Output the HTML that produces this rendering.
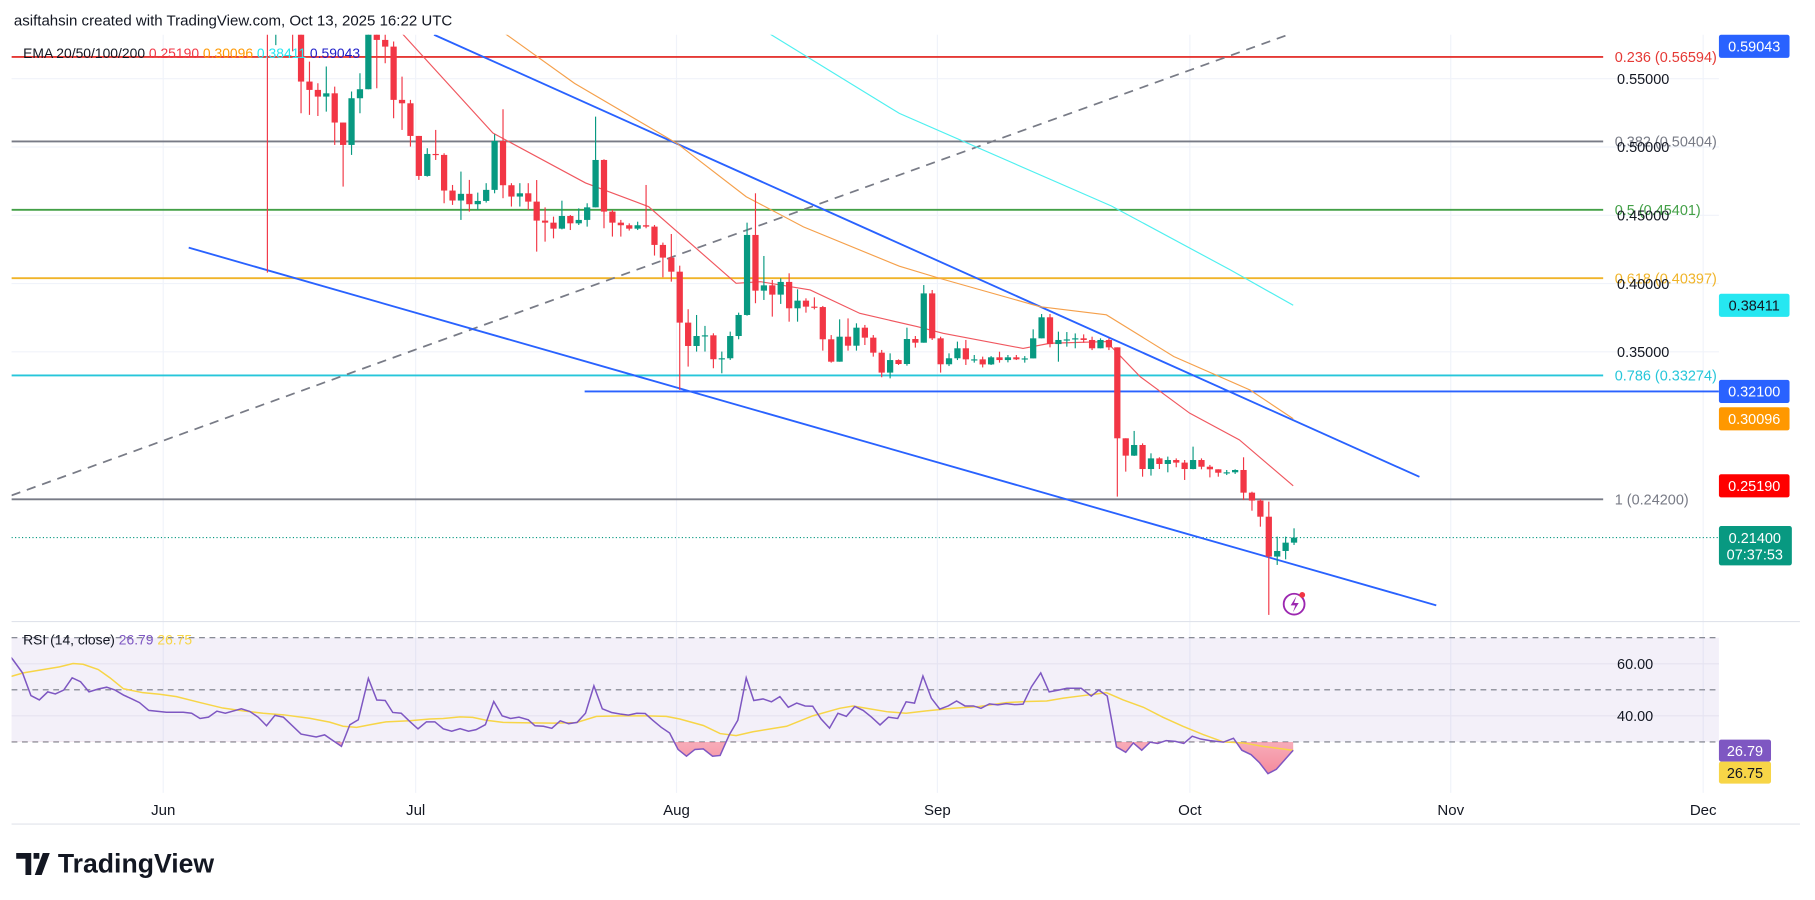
<!DOCTYPE html>
<html><head><meta charset="utf-8"><title>TradingView chart</title>
<style>
html,body{margin:0;padding:0;background:#fff;}
svg{display:block;font-family:"Liberation Sans",sans-serif;}
</style></head>
<body>
<svg id="chart" width="1815" height="900" viewBox="0 0 1568 777.6" preserveAspectRatio="none" xmlns="http://www.w3.org/2000/svg">
<defs>
<clipPath id="pane"><rect x="10" y="30" width="1475" height="507"/></clipPath>
<clipPath id="rsiPane"><rect x="10" y="538" width="1475" height="147"/></clipPath>
<clipPath id="below30"><rect x="10" y="641" width="1475" height="50"/></clipPath>
<linearGradient id="pinkG" x1="0" y1="0" x2="0" y2="1"><stop offset="0" stop-color="#f7a9b4" stop-opacity="0.2"/><stop offset="1" stop-color="#f26d84" stop-opacity="0.8"/></linearGradient>
</defs>
<rect x="0" y="0" width="1568" height="784" fill="#fff"/>
<text x="12" y="22" font-size="13" fill="#131722">asiftahsin created with TradingView.com, Oct 13, 2025 16:22 UTC</text>
<g id="grid"></g>
<g id="main" clip-path="url(#pane)"></g>
<g id="rsi"></g>
<g id="axes"></g>
<line x1="10" y1="712" x2="1555" y2="712" stroke="#e0e3eb" stroke-width="1"/>
<line x1="10" y1="537" x2="1555" y2="537" stroke="#e0e3eb" stroke-width="1"/>
<g>
<path d="M14 737h13v19h-5v-14h-8z M29 737h5v5h-5z M37 737h6l-7 19h-6z" fill="#131722"/>
<text x="50" y="754" font-size="23" font-weight="bold" fill="#131722">TradingView</text>
</g>
<text x="20" y="50" font-size="12"><tspan fill="#131722">EMA 20/50/100/200 </tspan><tspan fill="#f23645">0.25190 </tspan><tspan fill="#ff9800">0.30096 </tspan><tspan fill="#26e7f1">0.38411 </tspan><tspan fill="#1e1ec8">0.59043</tspan></text>
<text x="20" y="557" font-size="12"><tspan fill="#131722">RSI (14, close) </tspan><tspan fill="#7e57c2">26.79 </tspan><tspan fill="#f7d547">26.75</tspan></text>
<g>
<circle cx="1118" cy="522" r="9" fill="none" stroke="#9c27b0" stroke-width="1.6"/>
<path d="M1120 515l-5 8h4l-2 6 5-8h-4z" fill="#9c27b0"/>
<circle cx="1125" cy="514" r="2.5" fill="#f23645"/>
</g>
</svg>
<script>
const close=[0.61,0.625,0.60,0.585,0.5479,0.5418,0.5369,0.5393,0.5179,0.5015,0.5357,0.5423,0.5833,0.5784,0.5735,0.5345,0.5320,0.5081,0.4788,0.4949,0.4942,0.4681,0.4608,0.4657,0.4581,0.4605,0.4686,0.5044,0.4720,0.4637,0.4661,0.4600,0.4461,0.4446,0.4402,0.4495,0.4441,0.4466,0.4558,0.4905,0.4527,0.4446,0.4427,0.4402,0.4427,0.4417,0.4283,0.4190,0.4087,0.3714,0.3543,0.3616,0.3621,0.3446,0.3453,0.3616,0.3770,0.4356,0.3948,0.3987,0.3919,0.4012,0.3819,0.3875,0.3831,0.3828,0.3592,0.3428,0.3611,0.3545,0.3677,0.3604,0.3494,0.3348,0.3440,0.3411,0.3594,0.3567,0.3928,0.3599,0.3409,0.3453,0.3526,0.3445,0.3445,0.3408,0.3460,0.3440,0.3460,0.3445,0.3452,0.3599,0.3753,0.3557,0.3587,0.3591,0.3599,0.3587,0.3526,0.3587,0.3533,0.2867,0.2740,0.2818,0.2642,0.2720,0.2679,0.2708,0.2689,0.2642,0.2708,0.2659,0.2640,0.2615,0.2618,0.2635,0.2469,0.2411,0.2293,0.2001,0.2042,0.2103,0.2140];
const high=[0.66,0.64,0.63,0.60,0.5857,0.5625,0.5467,0.5589,0.5442,0.5174,0.5406,0.5540,0.59,0.59,0.5833,0.5772,0.5515,0.5345,0.5081,0.4991,0.5125,0.4954,0.4722,0.4820,0.4759,0.4666,0.4735,0.5093,0.5276,0.4735,0.4735,0.4735,0.4758,0.4558,0.4490,0.4607,0.4502,0.4551,0.4588,0.5222,0.4910,0.4539,0.4466,0.4441,0.4453,0.4722,0.4429,0.4300,0.4363,0.4131,0.3812,0.3770,0.3690,0.3636,0.3502,0.3648,0.3787,0.4446,0.4661,0.4202,0.4026,0.4039,0.4075,0.3958,0.3892,0.3899,0.3836,0.3623,0.3738,0.3745,0.3709,0.3697,0.3623,0.3514,0.3489,0.3445,0.3677,0.3616,0.3989,0.3953,0.3611,0.3489,0.3575,0.3587,0.3477,0.3465,0.3469,0.3501,0.3477,0.3477,0.3469,0.3665,0.3777,0.3777,0.3648,0.3645,0.3635,0.3628,0.3611,0.3599,0.3599,0.3533,0.2867,0.2921,0.2830,0.2757,0.2728,0.2733,0.2720,0.2708,0.2806,0.2720,0.2672,0.2640,0.2635,0.2640,0.2728,0.2476,0.2420,0.2403,0.2147,0.2147,0.2208];
const low=[0.408,0.5746,0.59,0.57,0.5247,0.5235,0.5227,0.5259,0.5015,0.4710,0.4942,0.5247,0.5423,0.5430,0.5613,0.5210,0.5125,0.5003,0.4759,0.4783,0.4905,0.4588,0.4576,0.4466,0.4527,0.4539,0.4593,0.4661,0.4625,0.4564,0.4564,0.4539,0.4234,0.4307,0.4331,0.4397,0.4392,0.4429,0.4417,0.4558,0.4405,0.4344,0.4344,0.4388,0.4392,0.4405,0.4205,0.4046,0.4014,0.3221,0.3392,0.3502,0.3502,0.3380,0.3343,0.3441,0.3592,0.3765,0.3856,0.3880,0.3758,0.3851,0.3721,0.3721,0.3787,0.3811,0.3509,0.3421,0.3428,0.3509,0.3509,0.3550,0.3465,0.3314,0.3306,0.3404,0.3399,0.3531,0.3567,0.3587,0.3348,0.3396,0.3440,0.3404,0.3421,0.3386,0.3404,0.3421,0.3423,0.3440,0.3421,0.3452,0.3599,0.3533,0.3428,0.3538,0.3526,0.3567,0.3513,0.3526,0.3513,0.2440,0.2623,0.2738,0.2586,0.2594,0.2642,0.2618,0.2655,0.2562,0.2640,0.2640,0.2581,0.2586,0.2598,0.2606,0.2415,0.2337,0.2220,0.1574,0.1940,0.1981,0.2086];
const firstOpen=0.65;
const ema20Idx=[16,26.8,37.8,45.3,55.7,58.6,64.5,70.4,77.2,80.3,89.8,93,99.7,103.7,109.6,115.5,121.9];
const ema20Val=[0.5832,0.5102,0.4737,0.4563,0.4002,0.4014,0.3953,0.3782,0.3685,0.3636,0.3525,0.3563,0.3575,0.3319,0.3051,0.2856,0.2519];
const ema50Idx=[28.2,36.5,48.7,56.9,63.7,75.1,79.9,91.8,99.7,107.7,116.8,121.9];
const ema50Val=[0.5832,0.5466,0.5025,0.4636,0.4415,0.4127,0.4038,0.3831,0.3771,0.3466,0.3220,0.3010];
const ema100Idx=[59.6,75.1,100.3,114.4,121.9];
const ema100Val=[0.5832,0.5246,0.4568,0.4101,0.3841];
const rsiIdx=[-30.6,-30.2,-29.1,-28.1,-27.1,-26.1,-25.2,-24.2,-23.2,-22.2,-21.2,-20.1,-19.1,-18.1,-17.1,-16.1,-15.2,-14.1,-12.0,-10.0,-9.0,-8.0,-7.0,-6.0,-5.0,-3.1,-2.1,-1.1,-0.1,0.9,1.9,4.0,5.8,6.8,7.8,8.8,9.8,10.8,12.0,13.0,14.0,14.9,15.9,16.9,17.9,18.9,19.9,20.9,21.9,22.9,23.9,24.8,25.9,26.9,27.9,28.9,29.9,31.0,31.8,32.8,33.8,34.8,35.8,36.8,37.8,38.8,39.8,40.9,41.9,42.9,43.9,44.9,45.8,46.8,47.8,48.8,49.8,50.8,51.8,52.9,53.8,54.9,55.9,56.9,57.8,58.9,59.9,60.9,61.9,62.9,63.9,64.8,65.8,66.8,67.8,68.8,69.8,70.8,71.8,72.8,73.8,74.9,75.9,76.9,77.9,78.9,79.9,80.9,81.9,82.9,83.9,84.8,85.8,86.8,87.8,88.8,89.8,90.8,91.9,92.9,94.0,95.0,96.7,97.9,98.8,99.8,100.9,102.0,102.9,103.9,104.9,105.8,106.8,107.9,108.9,109.9,110.9,112.0,113.6,114.8,115.8,116.9,117.9,118.9,119.9,121.9];
const rsiVal=[63,61.4,56.5,47.8,46.1,49.2,48.4,49.9,54.6,53.1,49.2,50.3,51.0,49.9,48.0,46.5,45.1,42.1,41.4,41.4,41.0,39.0,39.5,41.8,41.0,42.7,41.7,39.5,36.2,40.2,39.5,33.0,31.9,32.7,30.5,28.3,36.6,38.5,54.4,46.1,45.9,41.3,41.0,37.9,35.0,37.7,37.7,35.0,34.1,35.1,34.1,34.7,36.6,45.5,40.0,39.0,39.5,38.5,36.2,36.0,35.2,38.1,37.0,37.5,41.0,51.5,42.7,41.3,40.7,40.3,41.0,40.9,38.3,35.6,33.4,27.1,24.5,27.1,27.3,24.5,24.8,32.8,38.3,54.6,45.9,46.5,45.4,47.4,43.3,44.9,43.8,43.7,38.8,35.3,41.0,39.8,43.6,42.1,39.5,36.5,39.5,39.0,45.4,44.9,55.3,46.8,42.6,43.8,45.7,43.8,43.8,42.9,44.6,44.2,44.7,44.3,44.5,51.2,56.5,49.2,49.9,50.6,50.6,47.6,49.9,47.6,28.1,26.0,29.6,26.8,29.9,29.4,30.5,30.2,29.4,32.2,31.1,30.5,29.9,31.4,26.8,25.1,22.0,17.8,19.5,26.79];
const maIdx=[-30.6,-29.0,-26.6,-24.7,-23.1,-21.9,-20.1,-18.7,-17.1,-14.8,-12.8,-10.8,-8.0,-5.3,-2.9,-0.5,1.9,5.0,7.4,9.0,10.6,12.2,14.1,16.9,19.3,20.9,22.9,24.4,26.0,28.0,31.2,34.0,36.7,39.1,41.9,45.0,47.4,49.0,51.8,53.8,55.7,57.7,61.7,64.8,68.0,69.6,71.6,73.6,75.9,78.3,81.5,84.6,87.8,90.2,92.6,94.6,96.5,98.5,99.7,101.7,104.1,106.4,108.8,111.2,113.6,116.0,118.3,121.9];
const maVal=[55.0,56.5,57.8,58.8,60.1,59.8,57.8,54.6,50.4,48.9,48.3,47.4,45.1,43.0,41.9,41.0,40.4,39.1,37.6,36.0,35.6,36.6,37.7,38.1,38.8,39.0,39.6,39.4,38.3,37.5,37.3,37.2,37.4,39.8,40.0,40.0,39.8,38.8,36.3,33.2,32.4,33.9,36.0,40.0,42.9,43.8,42.7,41.6,41.0,41.9,42.9,43.6,45.1,45.5,45.7,46.8,47.6,48.4,48.9,46.1,43.3,39.5,36.0,32.8,30.0,29.6,28.3,26.75];
const fibRatio=["0.236","0.382","0.5","0.618","0.786","1"];
const fibPrice=[0.56594,0.50404,0.45401,0.40397,0.33274,0.242];
const fibColor=["#e53935","#787b86","#43a047","#f0b429","#26c6da","#787b86"];
const priceTicks=[0.55,0.50,0.45,0.40,0.35];
const rsiTicks=[60,40];
const monthLabels=["Jun","Jul","Aug","Sep","Oct","Nov","Dec"];
const monthDays=[0,30,61,92,122,153,183];
const trendUpperIdx=[19.8,136.9], trendUpperVal=[0.5822,0.2585];
const trendLowerIdx=[-9.35,138.9], trendLowerVal=[0.4263,0.1644];
const dashIdx=[-30.4,121.3], dashVal=[0.2449,0.5822];
const supportIdx=37.7, supportVal=0.321;
const badgeVals=["0.59043","0.38411","0.32100","0.30096","0.25190"];
const badgePrice=[0.59043,0.38411,0.321,0.30096,0.2519];
const badgeColor=["#2962ff","#26e7f1","#2962ff","#ff9800","#ff0000"];
const lastPrice=0.214, countdown="07:37:53";

const NS="http://www.w3.org/2000/svg";
const X=i=>231+i*7.27;
const Y=p=>68+(0.55-p)*1180;
const XD=d=>141+d*7.27;
const RY=r=>596-(r-50)*2.25;
function mk(tag,attrs,parent){const e=document.createElementNS(NS,tag);for(const k in attrs)e.setAttribute(k,attrs[k]);parent.appendChild(e);return e;}
const grid=document.getElementById('grid'),main=document.getElementById('main'),rsi=document.getElementById('rsi'),axes=document.getElementById('axes');

monthDays.forEach((d,k)=>{
  const l=mk('line',{x1:XD(d),x2:XD(d),y1:30,y2:685,stroke:'#f0f3fa','stroke-width':1},grid);
  
  
  const t=mk('text',{x:XD(d),y:704,'font-size':13,fill:'#131722','text-anchor':'middle'},axes);
  t.textContent=monthLabels[k];
  
  
});
priceTicks.forEach(p=>{
  const l=mk('line',{x1:10,x2:1485,y1:Y(p),y2:Y(p),stroke:'#f0f3fa','stroke-width':1},grid);
  
  
  const t=mk('text',{x:1397,y:Y(p)+4.5,'font-size':12.5,fill:'#131722'},axes);
  t.textContent=p.toFixed(5);
  
  
});

fibPrice.forEach((p,k)=>{
  const l=mk('line',{x1:10,x2:1385,y1:Y(p),y2:Y(p),stroke:fibColor[k],'stroke-width':1.6},main);
  
  
  const t=mk('text',{x:1395,y:Y(p)+4.5,'font-size':12.5,fill:fibColor[k]},main);
  t.textContent=fibRatio[k]+' ('+p.toFixed(5)+')';
  
  
});
const lp=mk('line',{x1:10,x2:1485,y1:Y(lastPrice),y2:Y(lastPrice),stroke:'#089981','stroke-width':1,'stroke-dasharray':'1 2'},main);


const dl=mk('line',{x1:X(dashIdx[0]),y1:Y(dashVal[0]),x2:X(dashIdx[1]),y2:Y(dashVal[1]),stroke:'#787b86','stroke-width':1.5,'stroke-dasharray':'8 6'},main);


const sl=mk('line',{x1:X(supportIdx),y1:Y(supportVal),x2:1485,y2:Y(supportVal),stroke:'#2962ff','stroke-width':1.6},main);


const tu=mk('line',{x1:X(trendUpperIdx[0]),y1:Y(trendUpperVal[0]),x2:X(trendUpperIdx[1]),y2:Y(trendUpperVal[1]),stroke:'#2962ff','stroke-width':1.6},main);


const tl=mk('line',{x1:X(trendLowerIdx[0]),y1:Y(trendLowerVal[0]),x2:X(trendLowerIdx[1]),y2:Y(trendLowerVal[1]),stroke:'#2962ff','stroke-width':1.6},main);



function poly(idx,val,fx,fy,color,w,parent){return mk('polyline',{points:idx.map((v,k)=>fx(v)+','+fy(val[k])).join(' '),fill:'none',stroke:color,'stroke-width':w},parent);}
const e100=poly(ema100Idx,ema100Val,X,Y,'#4ef0f0',1,main);


const e50=poly(ema50Idx,ema50Val,X,Y,'#f5a04b',1,main);


const e20=poly(ema20Idx,ema20Val,X,Y,'#f0575f',1,main);



close.forEach((c,i)=>{
  const o=i===0?firstOpen:close[i-1];
  const up=c>=o, col=up?'#089981':'#f23645';
  const h=Math.max(high[i],o,c), lo=Math.min(low[i],o,c);
  const g=mk('g',{},main);
  
  
  mk('line',{x1:X(i),x2:X(i),y1:Y(h),y2:Y(lo),stroke:col,'stroke-width':1},g);
  const top=Y(Math.max(o,c)), bh=Math.max(1,Math.abs(Y(o)-Y(c)));
  mk('rect',{x:X(i)-2.7,y:top,width:5.4,height:bh,fill:col},g);
});

badgeVals.forEach((v,k)=>{
  const y=Y(badgePrice[k]);
  const g=mk('g',{},axes);
  
  
  mk('rect',{x:1485,y:Math.max(30,y-10),width:61,height:20,rx:2,fill:badgeColor[k]},g);
  const t=mk('text',{x:1515.5,y:Math.max(30,y-10)+14.5,'font-size':12.5,'text-anchor':'middle',fill:k===1?'#131722':'#fff'},g);
  t.textContent=v;
});
const lg=mk('g',{},axes);


mk('rect',{x:1485,y:Y(lastPrice)-10,width:63,height:34,rx:2,fill:'#089981'},lg);
const lt1=mk('text',{x:1516,y:Y(lastPrice)+4.5,'font-size':12.5,'text-anchor':'middle',fill:'#fff'},lg);lt1.textContent=lastPrice.toFixed(5);
const lt2=mk('text',{x:1516,y:Y(lastPrice)+19,'font-size':12.5,'text-anchor':'middle',fill:'#fff'},lg);lt2.textContent=countdown;

const band=mk('rect',{x:10,y:RY(70),width:1475,height:RY(30)-RY(70),fill:'#7e57c2','fill-opacity':0.09},rsi);


rsiTicks.forEach(r=>{
  mk('line',{x1:10,x2:1485,y1:RY(r),y2:RY(r),stroke:'#e6e3f0','stroke-width':1},rsi);
  const t=mk('text',{x:1397,y:RY(r)+4.5,'font-size':12.5,fill:'#131722'},axes);
  t.textContent=r.toFixed(2);
  
  
});
[70,50,30].forEach(r=>{
  const l=mk('line',{x1:10,x2:1485,y1:RY(r),y2:RY(r),stroke:'#787b86','stroke-width':1,'stroke-dasharray':'5 4'},rsi);
  
  
});
const rg=mk('g',{'clip-path':'url(#rsiPane)'},rsi);
const fillPts=rsiIdx.map((v,k)=>X(v)+','+RY(rsiVal[k])).join(' ')+' '+X(rsiIdx[rsiIdx.length-1])+','+RY(30)+' '+X(rsiIdx[0])+','+RY(30);
const of=mk('polygon',{points:fillPts,fill:'url(#pinkG)','clip-path':'url(#below30)'},rg);


const mal=poly(maIdx,maVal,X,RY,'#f7d547',1.3,rg);


const rl=poly(rsiIdx,rsiVal,X,RY,'#7e57c2',1.3,rg);


const rb1=mk('g',{},axes);


mk('rect',{x:1485,y:639,width:45,height:19,rx:2,fill:'#7e57c2'},rb1);
const rbt1=mk('text',{x:1507.5,y:653,'font-size':12.5,'text-anchor':'middle',fill:'#fff'},rb1);rbt1.textContent='26.79';
const rb2=mk('g',{},axes);


mk('rect',{x:1485,y:658,width:45,height:19,rx:2,fill:'#f7d547'},rb2);
const rbt2=mk('text',{x:1507.5,y:672,'font-size':12.5,'text-anchor':'middle',fill:'#131722'},rb2);rbt2.textContent='26.75';
</script>
</body></html>
